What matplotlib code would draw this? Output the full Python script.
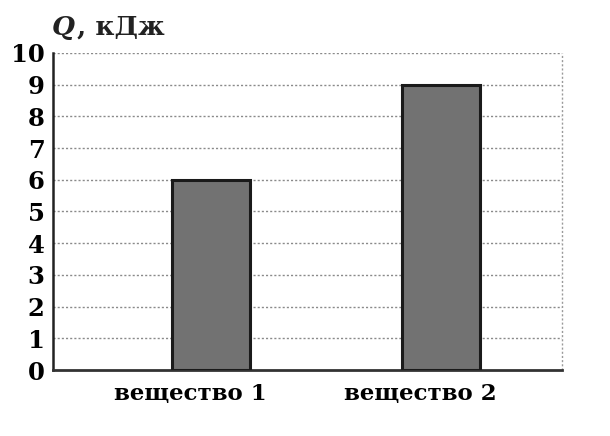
import matplotlib
matplotlib.use("Agg")
import matplotlib.pyplot as plt
import numpy as np

categories = ["вещество 1", "вещество 2"]
values = [6, 9]
yticks = list(range(0, 11))

fig = plt.figure(figsize=(6.10, 4.36), dpi=100)
ax = fig.add_axes([53/610, 66/436, 509/610, 317/436])

x = np.arange(len(categories))
ax.bar(x, values, width=0.339, color="#727272", edgecolor="#1a1a1a", linewidth=2.2, zorder=3)

ax.set_xlim(-0.687, 1.524)
ax.set_ylim(0, 10)
ax.set_yticks(yticks)
ax.set_yticklabels([str(t) for t in yticks], fontfamily="DejaVu Serif", fontweight="bold", fontsize=17.5)
ax.set_xticks(x - 0.09)
ax.set_xticklabels(categories, fontfamily="DejaVu Serif", fontweight="bold", fontsize=16.5)
ax.tick_params(axis="both", length=0, pad=6)
ax.tick_params(axis="x", pad=9)

for t in yticks[1:]:
    ax.axhline(t, color="#8a8a8a", linestyle=(0, (1.5, 1.5)), linewidth=1.0, zorder=1)

for s in ["top", "right"]:
    ax.spines[s].set_visible(False)
ax.axvline(1.524, color="#9a9a9a", linestyle=(0, (1.5, 1.5)), linewidth=1.0, zorder=1, clip_on=False)
ax.spines["left"].set_color("#222222")
ax.spines["left"].set_linewidth(1.8)
ax.spines["bottom"].set_color("#333333")
ax.spines["bottom"].set_linewidth(2.0)

fig.text(52/610, 1 - 27/436, "Q", fontfamily="DejaVu Serif", fontweight="bold", fontstyle="italic",
         fontsize=19, va="center", ha="left", color="#222222")
fig.text(77/610, 1 - 27/436, ", кДж", fontfamily="DejaVu Serif", fontweight="bold",
         fontsize=19, va="center", ha="left", color="#222222")

fig.savefig("out.png", dpi=100)
